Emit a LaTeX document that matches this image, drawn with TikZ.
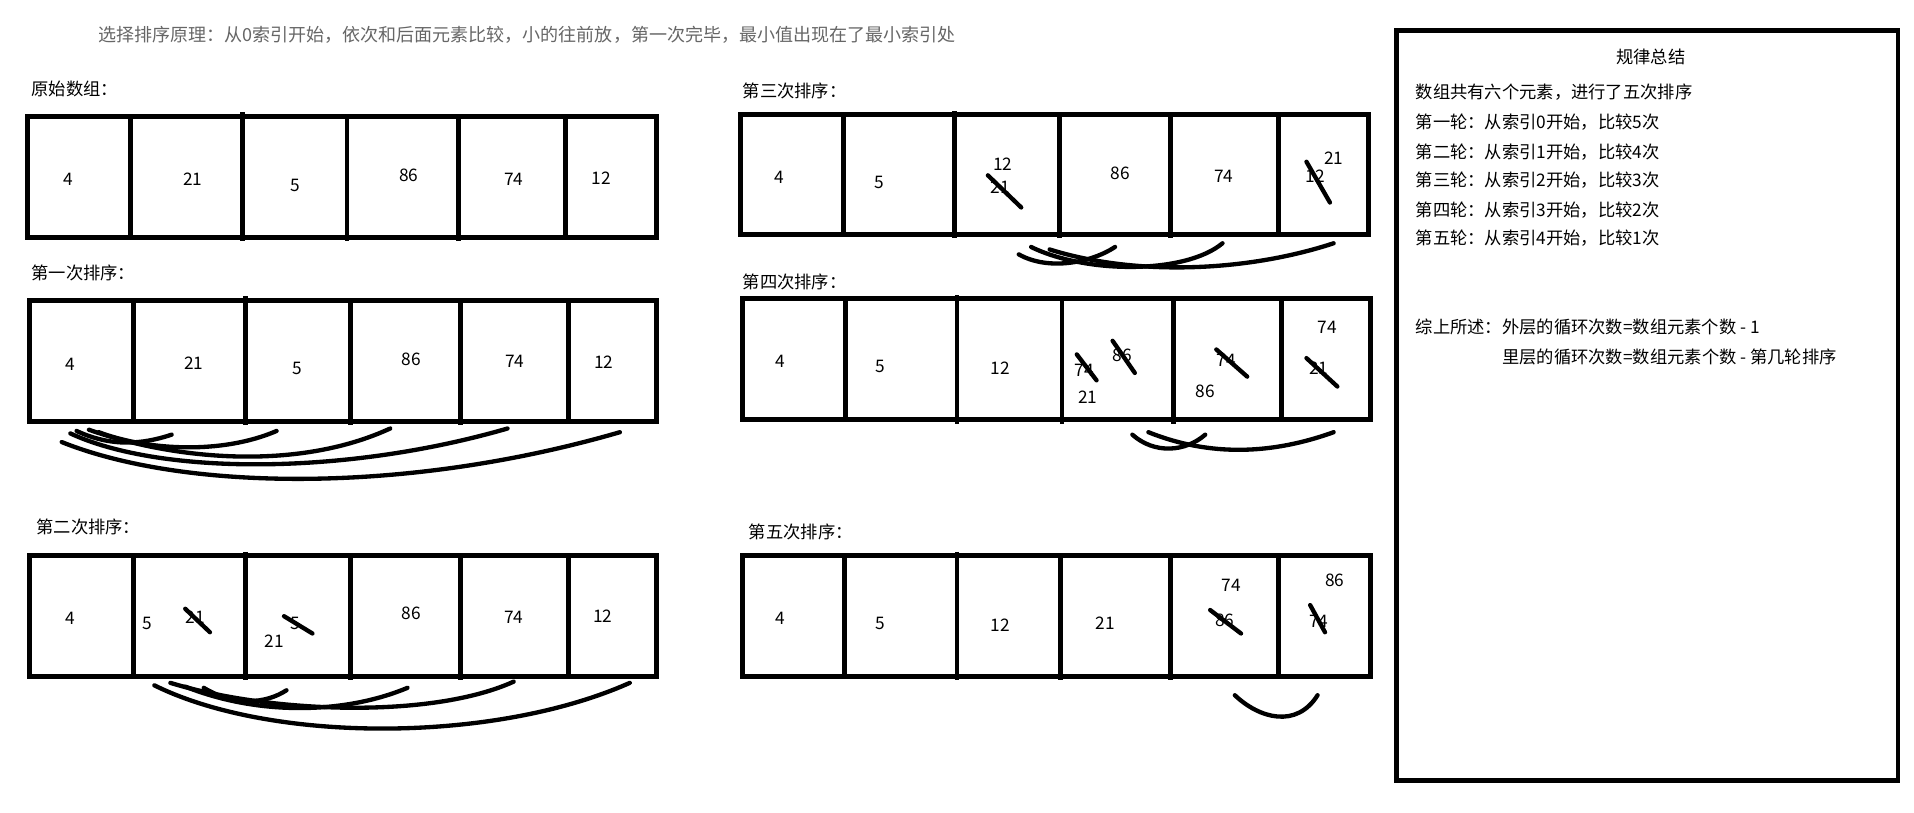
\documentclass[tikz,border=0pt]{standalone}
\usepackage{fontspec}
\setmainfont{Noto Sans CJK SC}
\begin{document}
\begin{tikzpicture}[x=1pt,y=-1pt,
        frame/.style={line width=4pt},
        strike/.style={line width=3.5pt,line cap=round},
        swing/.style={line width=3.5pt,line cap=round},
        num/.style={font=\fontsize{14}{16}\selectfont},
        rowname/.style={font=\fontsize{14}{16}\selectfont,anchor=west},
        rule/.style={font=\fontsize{14}{16}\selectfont,anchor=west}]
        \useasboundingbox (0,0) rectangle (1550,658);

        \node[anchor=west,text=black!60,font=\fontsize{14.6}{17}\selectfont] (title) at (76,28) {选择排序原理：从0索引开始，依次和后面元素比较，小的往前放，第一次完毕，最小值出现在了最小索引处};

        % original array
        \node[rowname] (origname) at (22,72) {原始数组：};
        \draw[frame] (22,94) rectangle (532,192);
        \draw[frame] (106,94) -- (106,192);
        \draw[frame] (196,91) -- (196,195);
        \draw[frame] (281,94) -- (281,195);
        \draw[frame] (371,94) -- (371,195);
        \draw[frame] (458,94) -- (458,194);
        \node[num] (o1) at (55,145) {4};
        \node[num] (o2) at (156,145) {21};
        \node[num] (o3) at (239,150) {5};
        \node[num] (o4) at (331,142) {86};
        \node[num] (o5) at (416,145) {74};
        \node[num] (o6) at (487,144) {12};

        % first pass
        \node[rowname] (firstname) at (22,221) {第一次排序：};
        \draw[frame] (24,243) rectangle (532,341);
        \draw[frame] (108,243) -- (108,341);
        \draw[frame] (199,240) -- (199,344);
        \draw[frame] (284,243) -- (284,344);
        \draw[frame] (373,243) -- (373,344);
        \draw[frame] (460,243) -- (460,343);
        \node[num] (a1) at (57,295) {4};
        \node[num] (a2) at (157,294) {21};
        \node[num] (a3) at (241,298) {5};
        \node[num] (a4) at (333,291) {86};
        \node[num] (a5) at (417,293) {74};
        \node[num] (a6) at (489,293) {12};
        \draw[swing] (50,358) .. controls (150,398) and (330,400) .. (502,350);
        \draw[swing] (57,351) .. controls (130,385) and (280,385) .. (411,347);
        \draw[swing] (72,348) .. controls (140,372) and (240,382) .. (316,347);
        \draw[swing] (80,350) .. controls (120,365) and (180,368) .. (224,349);
        \draw[swing] (62,349) .. controls (90,362) and (115,360) .. (139,352);

        % second pass
        \node[rowname] (secondname) at (26,427) {第二次排序：};
        \draw[frame] (24,450) rectangle (532,548);
        \draw[frame] (108,450) -- (108,548);
        \draw[frame] (199,447) -- (199,551);
        \draw[frame] (284,450) -- (284,551);
        \draw[frame] (373,450) -- (373,551);
        \draw[frame] (460,450) -- (460,550);
        \node[num] (b1) at (57,501) {4};
        \node[num] (b2new) at (119,505) {5};
        \node[num] (b2) at (158,500) {21};
        \node[num] (b3new) at (222,519) {21};
        \node[num] (b3) at (239,505) {5};
        \node[num] (b4) at (333,497) {86};
        \node[num] (b5) at (416,500) {74};
        \node[num] (b6) at (488,499) {12};
        \draw[strike] (150,493) -- (170,512);
        \draw[strike] (230,499) -- (253,513);
        \draw[swing] (125,555) .. controls (220,602) and (400,602) .. (510,553);
        \draw[swing] (138,553) .. controls (220,578) and (350,582) .. (416,552);
        \draw[swing] (150,556) .. controls (210,580) and (280,578) .. (330,557);
        \draw[swing] (165,557) .. controls (190,572) and (215,570) .. (232,559);

        % third pass
        \node[rowname] (thirdname) at (598,74) {第三次排序：};
        \draw[frame] (600,93) rectangle (1108,190);
        \draw[frame] (683,93) -- (683,190);
        \draw[frame] (773,90) -- (773,193);
        \draw[frame] (858,93) -- (858,193);
        \draw[frame] (948,93) -- (948,193);
        \draw[frame] (1035,93) -- (1035,192);
        \node[num] (c1) at (631,144) {4};
        \node[num] (c2) at (712,148) {5};
        \node[num] (c3new) at (812,133) {12};
        \node[num] (c3) at (810,152) {21};
        \node[num] (c4) at (907,140) {86};
        \node[num] (c5) at (991,143) {74};
        \node[num] (c6) at (1065,143) {12};
        \node[num] (c6new) at (1080,128) {21};
        \draw[strike] (800,142) -- (827,168);
        \draw[strike] (1058,131) -- (1077,164);
        \draw[swing] (825,206) .. controls (850,220) and (885,212) .. (903,200);
        \draw[swing] (835,200) .. controls (880,222) and (960,222) .. (990,197);
        \draw[swing] (850,202) .. controls (920,224) and (1010,220) .. (1080,197);

        % fourth pass
        \node[rowname] (fourthname) at (598,228) {第四次排序：};
        \draw[frame] (601,242) rectangle (1110,340);
        \draw[frame] (685,242) -- (685,340);
        \draw[frame] (775,239) -- (775,343);
        \draw[frame] (860,242) -- (860,343);
        \draw[frame] (950,242) -- (950,343);
        \draw[frame] (1038,242) -- (1038,342);
        \node[num] (d1) at (632,293) {4};
        \node[num] (d2) at (713,297) {5};
        \node[num] (d3) at (810,298) {12};
        \node[num] (d4) at (878,300) {74};
        \node[num] (d4old) at (909,288) {86};
        \node[num] (d4new) at (881,322) {21};
        \node[num] (d5) at (993,292) {74};
        \node[num] (d5new) at (976,317) {86};
        \node[num] (d6new) at (1075,265) {74};
        \node[num] (d6) at (1068,298) {21};
        \draw[strike] (872,287) -- (888,308);
        \draw[strike] (901,276) -- (919,302);
        \draw[strike] (985,283) -- (1010,305);
        \draw[strike] (1058,290) -- (1083,313);
        \draw[swing] (917,352) .. controls (935,368) and (960,366) .. (976,352);
        \draw[swing] (930,350) .. controls (980,370) and (1030,368) .. (1080,350);

        % fifth pass
        \node[rowname] (fifthname) at (603,431) {第五次排序：};
        \draw[frame] (601,450) rectangle (1110,548);
        \draw[frame] (684,450) -- (684,548);
        \draw[frame] (775,447) -- (775,551);
        \draw[frame] (859,450) -- (859,551);
        \draw[frame] (948,450) -- (948,551);
        \draw[frame] (1035,450) -- (1035,550);
        \node[num] (e1) at (632,501) {4};
        \node[num] (e2) at (713,505) {5};
        \node[num] (e3) at (810,506) {12};
        \node[num] (e4) at (895,505) {21};
        \node[num] (e5new) at (997,474) {74};
        \node[num] (e5) at (992,502) {86};
        \node[num] (e6new) at (1081,470) {86};
        \node[num] (e6) at (1068,503) {74};
        \draw[strike] (980,494) -- (1005,513);
        \draw[strike] (1061,490) -- (1073,512);
        \draw[swing] (1000,563) .. controls (1020,582) and (1050,590) .. (1067,563);

        % summary
        \draw[frame] (1131,25) rectangle (1537,632);
        \node[font=\fontsize{14}{16}\selectfont] (sumtitle) at (1337,46) {规律总结};
        \node[rule] (r0) at (1143,75) {数组共有六个元素，进行了五次排序};
        \node[rule] (r1) at (1143,99) {第一轮：从索引0开始，比较5次};
        \node[rule] (r2) at (1143,123) {第二轮：从索引1开始，比较4次};
        \node[rule] (r3) at (1143,146) {第三轮：从索引2开始，比较3次};
        \node[rule] (r4) at (1143,170) {第四轮：从索引3开始，比较2次};
        \node[rule] (r5) at (1143,193) {第五轮：从索引4开始，比较1次};
        \node[rule] (outer) at (1143,265) {综上所述：外层的循环次数=数组元素个数 - 1};
        \node[rule] (inner) at (1213,289) {里层的循环次数=数组元素个数 - 第几轮排序};
    \end{tikzpicture}
\end{document}
